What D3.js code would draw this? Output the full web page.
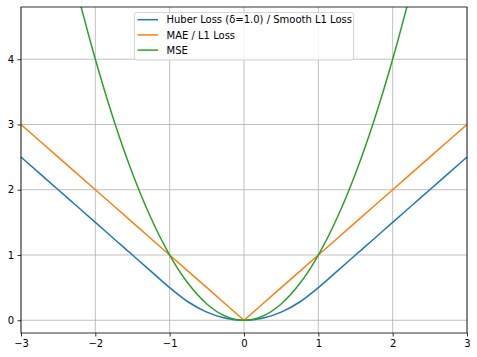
<!DOCTYPE html>
<html><head><meta charset="utf-8">
<script src="https://cdn.jsdelivr.net/npm/d3@7"></script>
<style>body{margin:0;background:#fff}svg{display:block}text{font-family:"DejaVu Sans",sans-serif}</style>
</head><body>
<script>
const xs = [-3,-2.75,-2.5,-2.25,-2,-1.75,-1.5,-1.25,-1,-0.75,-0.5,-0.25,0,0.25,0.5,0.75,1,1.25,1.5,1.75,2,2.25,2.5,2.75,3];
const huber = [2.5,2.25,2,1.75,1.5,1.25,1,0.75,0.5,0.28,0.125,0.031,0,0.031,0.125,0.28,0.5,0.75,1,1.25,1.5,1.75,2,2.25,2.5];
const mae = [3,2.75,2.5,2.25,2,1.75,1.5,1.25,1,0.75,0.5,0.25,0,0.25,0.5,0.75,1,1.25,1.5,1.75,2,2.25,2.5,2.75,3];
const mse = [9,7.5625,6.25,5.0625,4,3.0625,2.25,1.5625,1,0.5625,0.25,0.0625,0,0.0625,0.25,0.5625,1,1.5625,2.25,3.0625,4,5.0625,6.25,7.5625,9];
const seriesNames = ["Huber Loss (δ=1.0) / Smooth L1 Loss","MAE / L1 Loss","MSE"];
const colors = ["#1f77b4","#ff7f0e","#2ca02c"];
const xTicks = [-3,-2,-1,0,1,2,3];
const yTicks = [0,1,2,3,4];

const W=477,H=357, L=21, R=467, T=7, B=333;
const svg=d3.select("body").append("svg").attr("width",W).attr("height",H);
const x=d3.scaleLinear().domain([-3,3]).range([L,R]);
const y=d3.scaleLinear().domain([-0.195,4.8]).range([B,T]);

// grid
const g=svg.append("g");
g.selectAll(".gx").data(xTicks).join("line").attr("x1",d=>x(d)).attr("x2",d=>x(d)).attr("y1",T).attr("y2",B).attr("stroke","#b0b0b0").attr("stroke-width",0.8);
g.selectAll(".gy").data(yTicks).join("line").attr("y1",d=>y(d)).attr("y2",d=>y(d)).attr("x1",L).attr("x2",R).attr("stroke","#b0b0b0").attr("stroke-width",0.8);

svg.append("clipPath").attr("id","clip").append("rect").attr("x",L).attr("y",T).attr("width",R-L).attr("height",B-T);
const plot=svg.append("g").attr("clip-path","url(#clip)");
const smooth=d3.line().x(d=>x(d[0])).y(d=>y(d[1])).curve(d3.curveMonotoneX);
const lin=d3.line().x(d=>x(d[0])).y(d=>y(d[1]));
const data=[huber,mae,mse];
data.forEach((vals,i)=>{
  const pts=xs.map((v,j)=>[v,vals[j]]);
  plot.append("path").attr("d",(i===1?lin:smooth)(pts)).attr("fill","none").attr("stroke",colors[i]).attr("stroke-width",1.5);
});

// axes
const xa=svg.append("g").attr("transform",`translate(0,${B})`).call(d3.axisBottom(x).tickValues(xTicks).tickSize(3.5).tickPadding(3.5).tickFormat(d3.format("d")));
const ya=svg.append("g").attr("transform",`translate(${L},0)`).call(d3.axisLeft(y).tickValues(yTicks).tickSize(3.5).tickPadding(3.5).tickFormat(d3.format("d")));
[xa,ya].forEach(a=>{a.selectAll("text").attr("font-size",10).attr("fill","#000").style("font-family","DejaVu Sans");a.selectAll("line").attr("stroke","#000").attr("stroke-width",0.8);a.select(".domain").remove();});
svg.append("rect").attr("x",L).attr("y",T).attr("width",R-L).attr("height",B-T).attr("fill","none").attr("stroke","#000").attr("stroke-width",0.8);

// legend
const lg=svg.append("g");
lg.append("rect").attr("x",134.5).attr("y",12.5).attr("width",219).attr("height",47.5).attr("rx",2).attr("fill","#fff").attr("fill-opacity",0.8).attr("stroke","#cccccc").attr("stroke-width",0.8);
seriesNames.forEach((n,i)=>{
  const yy=19.7+i*15.2;
  lg.append("line").attr("x1",137.5).attr("x2",158).attr("y1",yy).attr("y2",yy).attr("stroke",colors[i]).attr("stroke-width",1.5);
  lg.append("text").attr("x",166.5).attr("y",yy+3.6).attr("font-size",10).attr("fill","#000").text(n);
});
</script>
</body></html>
